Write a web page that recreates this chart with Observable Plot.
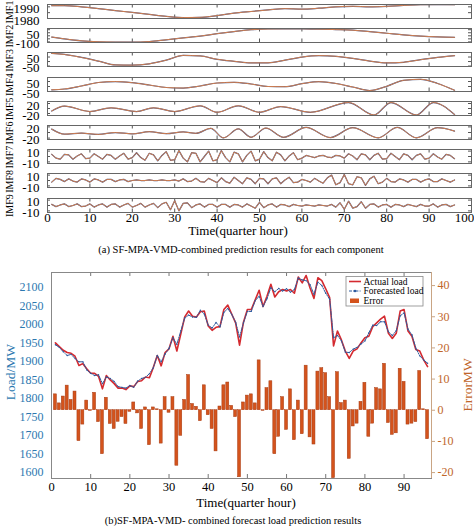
<!DOCTYPE html>
<html><head><meta charset="utf-8">
<script src="https://cdn.jsdelivr.net/npm/d3@7"></script>
<script src="https://cdn.jsdelivr.net/npm/@observablehq/plot@0.6"></script>
<style>
body{margin:0;background:#fff;}
#root{position:relative;width:474px;height:527px;overflow:hidden;background:#fff;}
#ov text{font-family:'Liberation Serif','Times New Roman',serif;font-weight:normal;}
</style></head><body><div id="root"></div>
<script>
// ---------------- Panel (a) data ----------------
const imfNames = ["IMF1","IMF2","IMF3","IMF4","IMF5","IMF6","IMF7","IMF8","IMF9"];
const xCoarse = [1,4,8,12,16,20,24,28,32,36,40,44,48,52,56,60,64,68,72,76,80,84,88,92,96];
const imf1 = [1991.0,1991.0,1990.0,1988.5,1986.8,1985.2,1983.5,1981.8,1980.8,1981.0,1982.5,1984.6,1986.0,1987.3,1988.5,1988.0,1988.8,1990.0,1990.5,1990.0,1990.4,1991.2,1991.8,1991.9,1991.8];
const imf2 = [-20,-50,-82,-98,-104,-105,-95,-65,-35,-5,35,70,100,112,115,115,110,102,92,68,42,15,-5,-18,-25];
const imf3 = [90,78,45,5,-38,-40,-25,15,68,62,25,3,-15,-14,15,50,66,58,35,5,-15,-8,20,45,65];
const imf4 = [-33,-25,5,40,50,38,15,-10,-15,5,35,42,25,0,-2,28,48,30,-5,-40,2,62,72,30,-38];
const imf5X = [1,4,10,15,21,25,30,36,40,45,50,55,62,71,77,81,87,91,96];
const imf5 = [-10,10,-12,3,-12,3,-12,11,-15,11,-15,8,-15,24,-26,24,-26,24,-24];
const imf6X = [1,4,8,12,16,20,24,28,32,35,38.5,41.5,45,48,51.5,55.7,61,66.7,72,78,82.5,87,92,96];
const imf6 = [12,-6,-2,-7,0,-5,3,-4,2,-3,15,-19,13,-17,16,-17,18,-18,17,-19,18,-19,17,5];
const quarterX = d3.range(1, 97);
const imf7 = [4,-3,-5,4,3,-5,1,5,-4,-3, 5,0,-5,4,2,-5,1,6,-5,-2, 7,-2,-7,6,3,-8,2,9,-7,-6,
  11,-3,-10,7,6,-10,0,10,-8,-6, 11,-2,-10,8,5,-10,2,10,-8,-5, 9,-2,-8,8,3,-8,1,7,-6,-3,
  2,0,-2,1,2,-1,-2,2,1,-3, 5,1,-6,5,3,-6,2,6,-5,-4, 6,0,-6,5,2,-6,2,5,-5,-3, 5,-1,-5,4,2,-4];
const imf8 = [-3,4,2,-2,3,-1,-3,3,1,-3, 3,1,-3,2,2,-2,1,2,-2,0, 1,0,0,1,0,0,1,0,0,1,
  -1,3,-2,-1,4,-2,-3,4,0,-4, 5,-2,-5,6,0,-6,5,2,-6,4, 3,-6,3,5,-6,1,6,-4,-3,2,
  0,-3,4,-1,-5,5,10,-8,-4,11, -6,-8,7,5,-9,3,8,-6,-3,4, -2,-3,3,1,-3,2,2,-3,1,3, -2,-2,3,0,-3,1];
const imf9 = [2,-2,1,3,-2,0,3,-2,-1,3, -3,1,3,-3,2,3,-3,1,4,-3, 0,4,-3,1,4,-4,3,6,-8,9,
  -10,4,5,-4,1,3,-3,2,2,-3, 2,2,-3,2,1,-3,3,-1,-5,6, -4,1,3,-3,2,1,-2,2,0,-1,
  1,0,-1,1,0,-1,2,-3,5,-7, 8,-5,-2,7,-5,2,3,-3,1,2, -3,2,1,-2,2,0,-2,2,-1,-1, 3,-3,1,2,-2,1];
const imfDomains = [[1980,1992],[-110,120],[-55,100],[-50,90],[-28,28],[-25,25],[-13,13],[-13,13],[-13,13]];
const imfLabelTicks = [[1990,1980],[50,-100],[50,-50],[50,-50],[20,-20],[20,-20],[10,-10],[10,-10],[10,-10]];
const imfMinorTicks = [[1980,1985,1990],[-100,-50,0,50,100],[-50,0,50,100],[-50,0,50],[-20,0,20],[-20,0,20],[-10,0,10],[-10,0,10],[-10,0,10]];
const imfXs = [xCoarse,xCoarse,xCoarse,xCoarse,imf5X,imf6X,quarterX,quarterX,quarterX];
const imfVals = [imf1,imf2,imf3,imf4,imf5,imf6,imf7,imf8,imf9];
const xTicksA = [10,20,30,40,50,60,70,80,90];
const xLabelsA = [0,10,20,30,40,50,60,70,80,90];

// ---------------- Panel (b) data ----------------
const actualLoad = [1950,1940,1930,1924,1922,1914,1889,1894,1880,1868,
  1868,1860,1826,1862,1850,1840,1828,1828,1824,1834,
  1832,1846,1848,1858,1856,1884,1916,1888,1924,1934,
  1968,1928,1974,2020,2036,2022,2020,2034,2036,1996,
  1984,1992,1994,2040,2052,2028,2004,1944,2006,2040,
  2040,2066,2092,2048,2076,2108,2074,2088,2094,2090,
  2094,2084,2128,2112,2132,2098,2070,2126,2118,2096,
  2072,1942,1982,1958,1928,1908,1928,1934,1950,1964,
  1968,1994,2004,2014,2022,1976,1962,1976,2036,2040,
  1982,1968,1932,1928,1904,1886];
const forecastLoad = [1945,1938,1926,1916,1919,1908,1899,1899,1877,1868,
  1862,1864,1840,1858,1854,1846,1832,1830,1828,1835,
  1830,1847,1854,1857,1867,1883,1916,1899,1920,1935,
  1964,1946,1982,2017,2025,2020,2019,2038,2028,1998,
  1990,2005,1993,2032,2043,2027,2006,1966,2004,2035,
  2035,2064,2076,2048,2069,2099,2088,2097,2090,2096,
  2087,2094,2125,2120,2118,2107,2081,2114,2105,2084,
  2068,1964,1970,1956,1925,1924,1933,1938,1947,1955,
  1977,1998,1997,2007,2007,1980,1970,1983,2023,2031,
  1987,1972,1936,1915,1904,1895];
const errorMW = [5.1,2.2,4.4,7.9,3.3,6.0,-9.9,-4.6,3.1,-0.2,
  5.6,-3.8,-14.1,4.0,-4.4,-6.0,-3.7,-2.2,-4.4,-0.5,
  2.5,-1.0,-6.0,0.9,-11.2,0.9,0.3,-10.7,4.2,-0.8,
  4.2,-17.8,-8.2,3.3,11.3,2.0,1.1,-3.5,8.0,-1.6,
  -6.0,-13.2,1.2,8.0,8.9,1.4,-2.2,-21.5,2.5,4.7,
  5.1,2.2,16.0,-0.2,7.1,9.3,-14.1,-8.5,4.2,-6.3,
  6.7,-9.6,3.1,-7.7,14.3,-8.7,-11.0,12.4,13.5,11.9,
  4.2,-21.8,12.2,2.3,3.1,-15.6,-5.2,-4.3,2.7,8.8,
  -8.5,-4.3,7.1,6.7,14.9,-4.1,-7.9,-7.4,13.3,9.1,
  -4.6,-4.3,-3.8,12.6,0.3,-9.3];
const loadTicks = [1600,1650,1700,1750,1800,1850,1900,1950,2000,2050,2100];
const errTicks = [-20,-10,0,10,20,30,40];
const xLabelsB = [0,10,20,30,40,50,60,70,80,90];
const xDomainB = [0,97];
const loadDomain = [1584,2140];
const errDomain = [-21.9,44.2];

// ---------------- drawing ----------------
const FONT = "'Liberation Serif','Times New Roman',serif";
const root = document.getElementById("root");
function place(svg, top){
  svg.style.position = "absolute"; svg.style.left = "0px"; svg.style.top = top + "px";
  svg.style.overflow = "visible"; svg.style.background = "transparent";
  root.appendChild(svg);
}

const boxH = 14, innerW = 474 - 47 - 3;
imfNames.forEach((name, k) => {
  const top = 4 + 24.2 * k;
  const last = k === imfNames.length - 1;
  const mt = 3, mb = last ? 24 : 3;
  const data = imfXs[k].map((x, i) => ({x, v: imfVals[k][i]}));
  const curve = k < 6 ? "monotone-x" : "linear";
  const marks = [
    Plot.tickX(xTicksA, {x: d => d, insetBottom: boxH - 3.5, stroke: "#555"}),
    Plot.tickX(xTicksA, {x: d => d, insetTop: boxH - 3.5, stroke: "#555"}),
    Plot.tickY(imfMinorTicks[k], {y: d => d, insetRight: innerW - 3, stroke: "#555"}),
    Plot.tickY(imfMinorTicks[k], {y: d => d, insetLeft: innerW - 3, stroke: "#555"}),
    Plot.line(data, {x: "x", y: "v", curve, stroke: "#44568a", strokeWidth: 1.25}),
    Plot.line(data, {x: "x", y: "v", curve, stroke: "#d7804c", strokeWidth: 0.95}),
    Plot.frame({stroke: "#666"}),
    Plot.axisY({ticks: imfLabelTicks[k], tickSize: 0, tickPadding: 8, dy: 2, tickFormat: d => String(d), label: null})
  ];
  if (last) {
    marks.push(Plot.axisX({ticks: xLabelsA, tickSize: 0, tickPadding: 0, tickFormat: d => String(d), label: null}));
    marks.push(Plot.axisX({ticks: [100], tickSize: 0, tickPadding: 0, dx: -7, tickFormat: d => String(d), label: null}));
  }
  const p = Plot.plot({
    width: 474, height: boxH + mt + mb,
    marginLeft: 47, marginRight: 3, marginTop: mt, marginBottom: mb,
    x: last ? {domain: [0, 100]} : {domain: [0, 100], axis: null},
    y: {domain: imfDomains[k]},
    style: {fontFamily: FONT, fontSize: "13px", color: "#000", background: "transparent"},
    marks
  });
  place(p, top - mt);
});

// Panel (b): error bars (right axis), drawn underneath
const errData = quarterX.map((x, i) => ({x, e: errorMW[i]}));
const loadData = quarterX.map((x, i) => ({x, a: actualLoad[i], f: forecastLoad[i]}));
const bTop = 272, bMt = 10, bMb = 20, bH = 206;
const pErr = Plot.plot({
  width: 474, height: bH + bMt + bMb,
  marginLeft: 51, marginRight: 43, marginTop: bMt, marginBottom: bMb,
  x: {domain: xDomainB, axis: null},
  y: {domain: errDomain},
  style: {fontFamily: FONT, fontSize: "12px", color: "#c0652a", background: "transparent"},
  marks: [
    Plot.rect(errData, {x1: d => d.x - 0.38, x2: d => d.x + 0.38, y1: d => 0, y2: "e", fill: "#d4531c", stroke: "#a63a12", strokeWidth: 0.5}),
    Plot.axisY({anchor: "right", ticks: errTicks, tickSize: 3, tickPadding: 3, stroke: "#c9a584", fill: "#c0652a", tickFormat: d => String(d), label: null})
  ]
});
place(pErr, bTop - bMt);

const pLoad = Plot.plot({
  width: 474, height: bH + bMt + bMb,
  marginLeft: 51, marginRight: 43, marginTop: bMt, marginBottom: bMb,
  x: {domain: xDomainB},
  y: {domain: loadDomain},
  style: {fontFamily: FONT, fontSize: "12px", color: "#000", background: "transparent"},
  marks: [
    Plot.tickX(xLabelsB.slice(1), {x: d => d, insetBottom: bH - 4, stroke: "#777"}),
    Plot.tickX(xLabelsB.slice(1), {x: d => d, insetTop: bH - 4, stroke: "#777"}),
    Plot.line(loadData, {x: "x", y: "a", stroke: "#d42a30", strokeWidth: 1.6}),
    Plot.line(loadData, {x: "x", y: "f", stroke: "#2d5a9e", strokeWidth: 1, strokeDasharray: "4,1.2,1,1.2"}),
    Plot.dot(loadData, {x: "x", y: "f", r: 0.7, fill: "#2d5a9e"}),
    Plot.frame({stroke: "#888"}),
    Plot.ruleX([xDomainB[1]], {stroke: "#c9a584"}),
    Plot.axisY({ticks: loadTicks, tickSize: 0, tickPadding: 8, fill: "#2c78b0", tickFormat: d => String(d), label: null}),
    Plot.axisX({ticks: xLabelsB, tickSize: 0, tickPadding: 4, fontSize: 12.5, tickFormat: d => String(d), label: null})
  ]
});
place(pLoad, bTop - bMt);

// ---------------- titles, labels, legend ----------------
const ov = d3.select(root).append("svg").attr("id", "ov")
  .attr("width", 474).attr("height", 527)
  .style("position", "absolute").style("left", "0px").style("top", "0px")
  .style("pointer-events", "none");
function txt(x, y, s, size, opt = {}) {
  const t = ov.append("text").attr("x", x).attr("y", y).style("font-size", size + "px")
    .attr("text-anchor", opt.anchor || "middle").attr("fill", opt.fill || "#000").text(s);
  if (opt.rotate) t.attr("x", 0).attr("y", 0).attr("transform", `translate(${x},${y}) rotate(-90)`);
  return t;
}
imfNames.forEach((name, k) => txt(13, 4 + 24.2 * k + 8, name, 10, {rotate: true}));
txt(238, 235, "Time(quarter hour)", 13);
txt(241, 252.5, "(a) SF-MPA-VMD-combined prediction results for each component", 10.5);
txt(15, 372, "Load/MW", 13.5, {rotate: true, fill: "#2c78b0"});
txt(472, 385, "ErrorMW", 13.5, {rotate: true, fill: "#c0652a"});
txt(246, 507, "Time(quarter hour)", 13);
txt(233, 523.5, "(b)SF-MPA-VMD- combined forecast load prediction results", 10.5);

// legend
ov.append("rect").attr("x", 346).attr("y", 276.5).attr("width", 77).attr("height", 29.5)
  .attr("fill", "#fff").attr("stroke", "#888").attr("stroke-width", 0.8);
ov.append("line").attr("x1", 349).attr("x2", 361).attr("y1", 281.5).attr("y2", 281.5)
  .attr("stroke", "#d42a30").attr("stroke-width", 1.6);
ov.append("line").attr("x1", 349).attr("x2", 361).attr("y1", 291).attr("y2", 291)
  .attr("stroke", "#2d5a9e").attr("stroke-width", 1).attr("stroke-dasharray", "3,1.2,1,1.2");
ov.append("circle").attr("cx", 355).attr("cy", 291).attr("r", 1.3).attr("fill", "#2d5a9e");
ov.append("rect").attr("x", 350).attr("y", 298.5).attr("width", 9).attr("height", 4.5).attr("fill", "#d4531c");
txt(363.5, 284.8, "Actual load", 9.5, {anchor: "start"});
txt(363.5, 294.3, "Forecasted load", 9.5, {anchor: "start"});
txt(363.5, 303.8, "Error", 9.5, {anchor: "start"});
</script>
</body></html>
